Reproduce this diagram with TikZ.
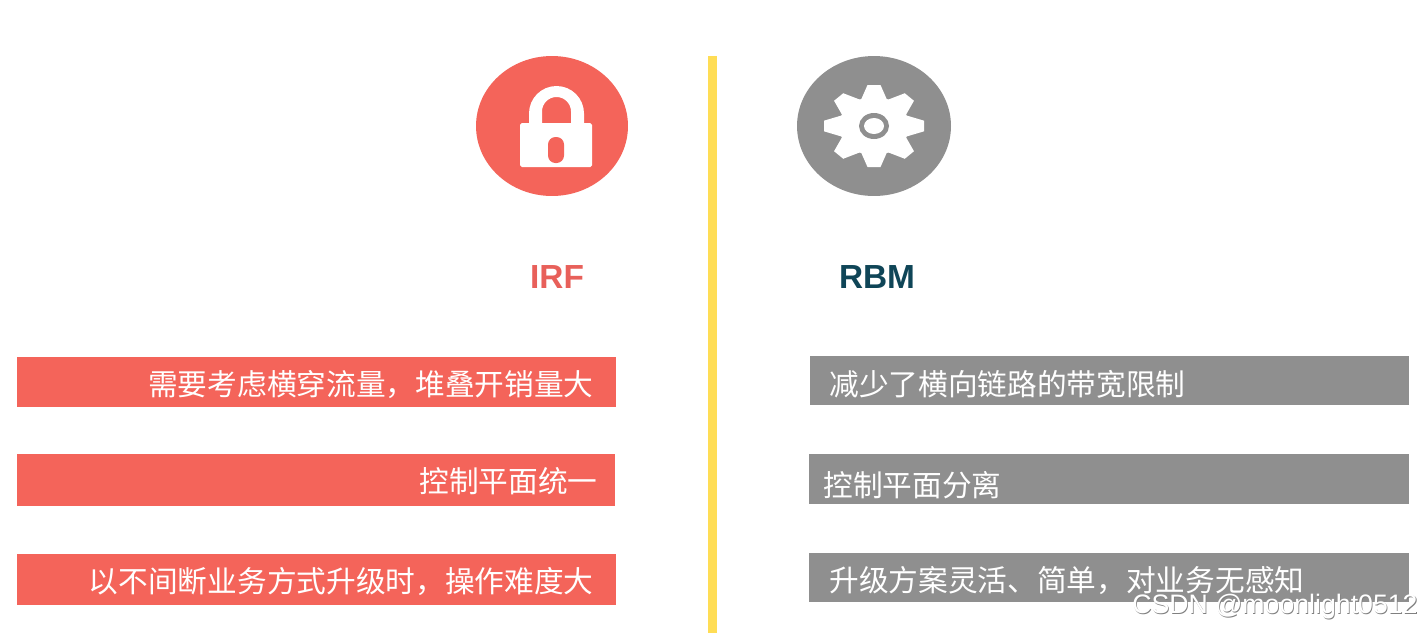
\documentclass[tikz,border=0pt]{standalone}
\usepackage{fontspec}
\setmainfont{Liberation Sans}
\newfontfamily\cjk{Noto Sans CJK SC}
\usetikzlibrary{shapes.geometric}
\definecolor{irfred}{HTML}{F4645A}
\definecolor{irftext}{HTML}{E8605A}
\definecolor{rbmgray}{HTML}{8F8F8F}
\definecolor{rulegold}{HTML}{FFDD55}
\definecolor{rbmblue}{HTML}{0F4557}
\tikzset{
  irfbar/.style={fill=irfred,draw=none,inner sep=0pt,anchor=north west},
  rbmbar/.style={fill=rbmgray,draw=none,inner sep=0pt,anchor=north west},
  bartext/.style={text=white,inner sep=0pt,font=\cjk\fontsize{16.9}{20}\selectfont},
  badge/.style={ellipse,draw=none,inner sep=0pt},
  title/.style={inner sep=0pt,font=\bfseries\fontsize{19}{22}\selectfont},
  wmark/.style={anchor=east,inner sep=0pt,font=\fontsize{15.2}{18}\selectfont},
}
\begin{document}
\begin{tikzpicture}[x=0.02cm,y=-0.02cm]
\fill[white] (0,0) rectangle (1422,633);
\useasboundingbox (0,0) rectangle (1422,633);

% Riga centrale
\fill[rulegold] (708,56) rectangle (717,633);

% Cerchi
\node[badge,fill=irfred,minimum width=3.04cm,minimum height=2.8cm] (irfbadge) at (552,126) {};
\node[badge,fill=rbmgray,minimum width=3.08cm,minimum height=2.8cm] (rbmbadge) at (874,126) {};

% Lucchetto
\fill[white,even odd rule] (529,130) -- (529,113.5) arc [start angle=180,end angle=360,radius=27.5] -- (584,130) -- cycle
  (542,130) -- (542,111.5) arc [start angle=180,end angle=360,radius=14.5] -- (571,130) -- cycle;
\fill[white,rounded corners=1pt] (520,123) rectangle (592,167);
\fill[irfred,rounded corners=0.15cm] (548,137) rectangle (564,163);

% Ingranaggio
\fill[white] (874,126) ellipse [x radius=35,y radius=29];
\foreach \a in {0,45,...,315} {
  \fill[white,shift={(874,126)},yscale=0.82,rotate=\a] (32,-13) -- (50,-6.5) -- (50,6.5) -- (32,13) -- cycle;
}
\fill[rbmgray] (874,126) ellipse [x radius=15,y radius=13];
\fill[white] (874,126) ellipse [x radius=10,y radius=8];

% Titoli
\node[title,text=irftext] (irftitle) at (557,277) {IRF};
\node[title,text=rbmblue] (rbmtitle) at (877,277) {RBM};

% Barre a sinistra
\node[irfbar,minimum width=11.98cm,minimum height=1cm] (irfa) at (17,357) {};
\node[irfbar,minimum width=11.96cm,minimum height=1.04cm] (irfb) at (17,454) {};
\node[irfbar,minimum width=11.98cm,minimum height=1.02cm] (irfc) at (17,554) {};
\node[bartext,anchor=east] (irfatext) at (594,385) {需要考虑横穿流量，堆叠开销量大};
\node[bartext,anchor=east] (irfbtext) at (598,481) {控制平面统一};
\node[bartext,anchor=east] (irfctext) at (594,582) {以不间断业务方式升级时，操作难度大};

% Barre a destra
\node[rbmbar,minimum width=11.98cm,minimum height=0.98cm] (rbma) at (810,356) {};
\node[rbmbar,minimum width=12cm,minimum height=1cm] (rbmb) at (809,454) {};
\node[rbmbar,minimum width=12cm,minimum height=0.98cm] (rbmc) at (809,553) {};
\node[bartext,anchor=west] (rbmatext) at (829,384) {减少了横向链路的带宽限制};
\node[bartext,anchor=west] (rbmbtext) at (823,485) {控制平面分离};
\node[bartext,anchor=west] (rbmctext) at (829,581) {升级方案灵活、简单，对业务无感知};

% Scritta in basso
\node[wmark,text=black!50] (wmarkshade) at (1418.8,607.8) {CSDN @moonlight0512};
\node[wmark,text=white] (wmarktext) at (1418,607) {CSDN @moonlight0512};
\end{tikzpicture}
\end{document}
